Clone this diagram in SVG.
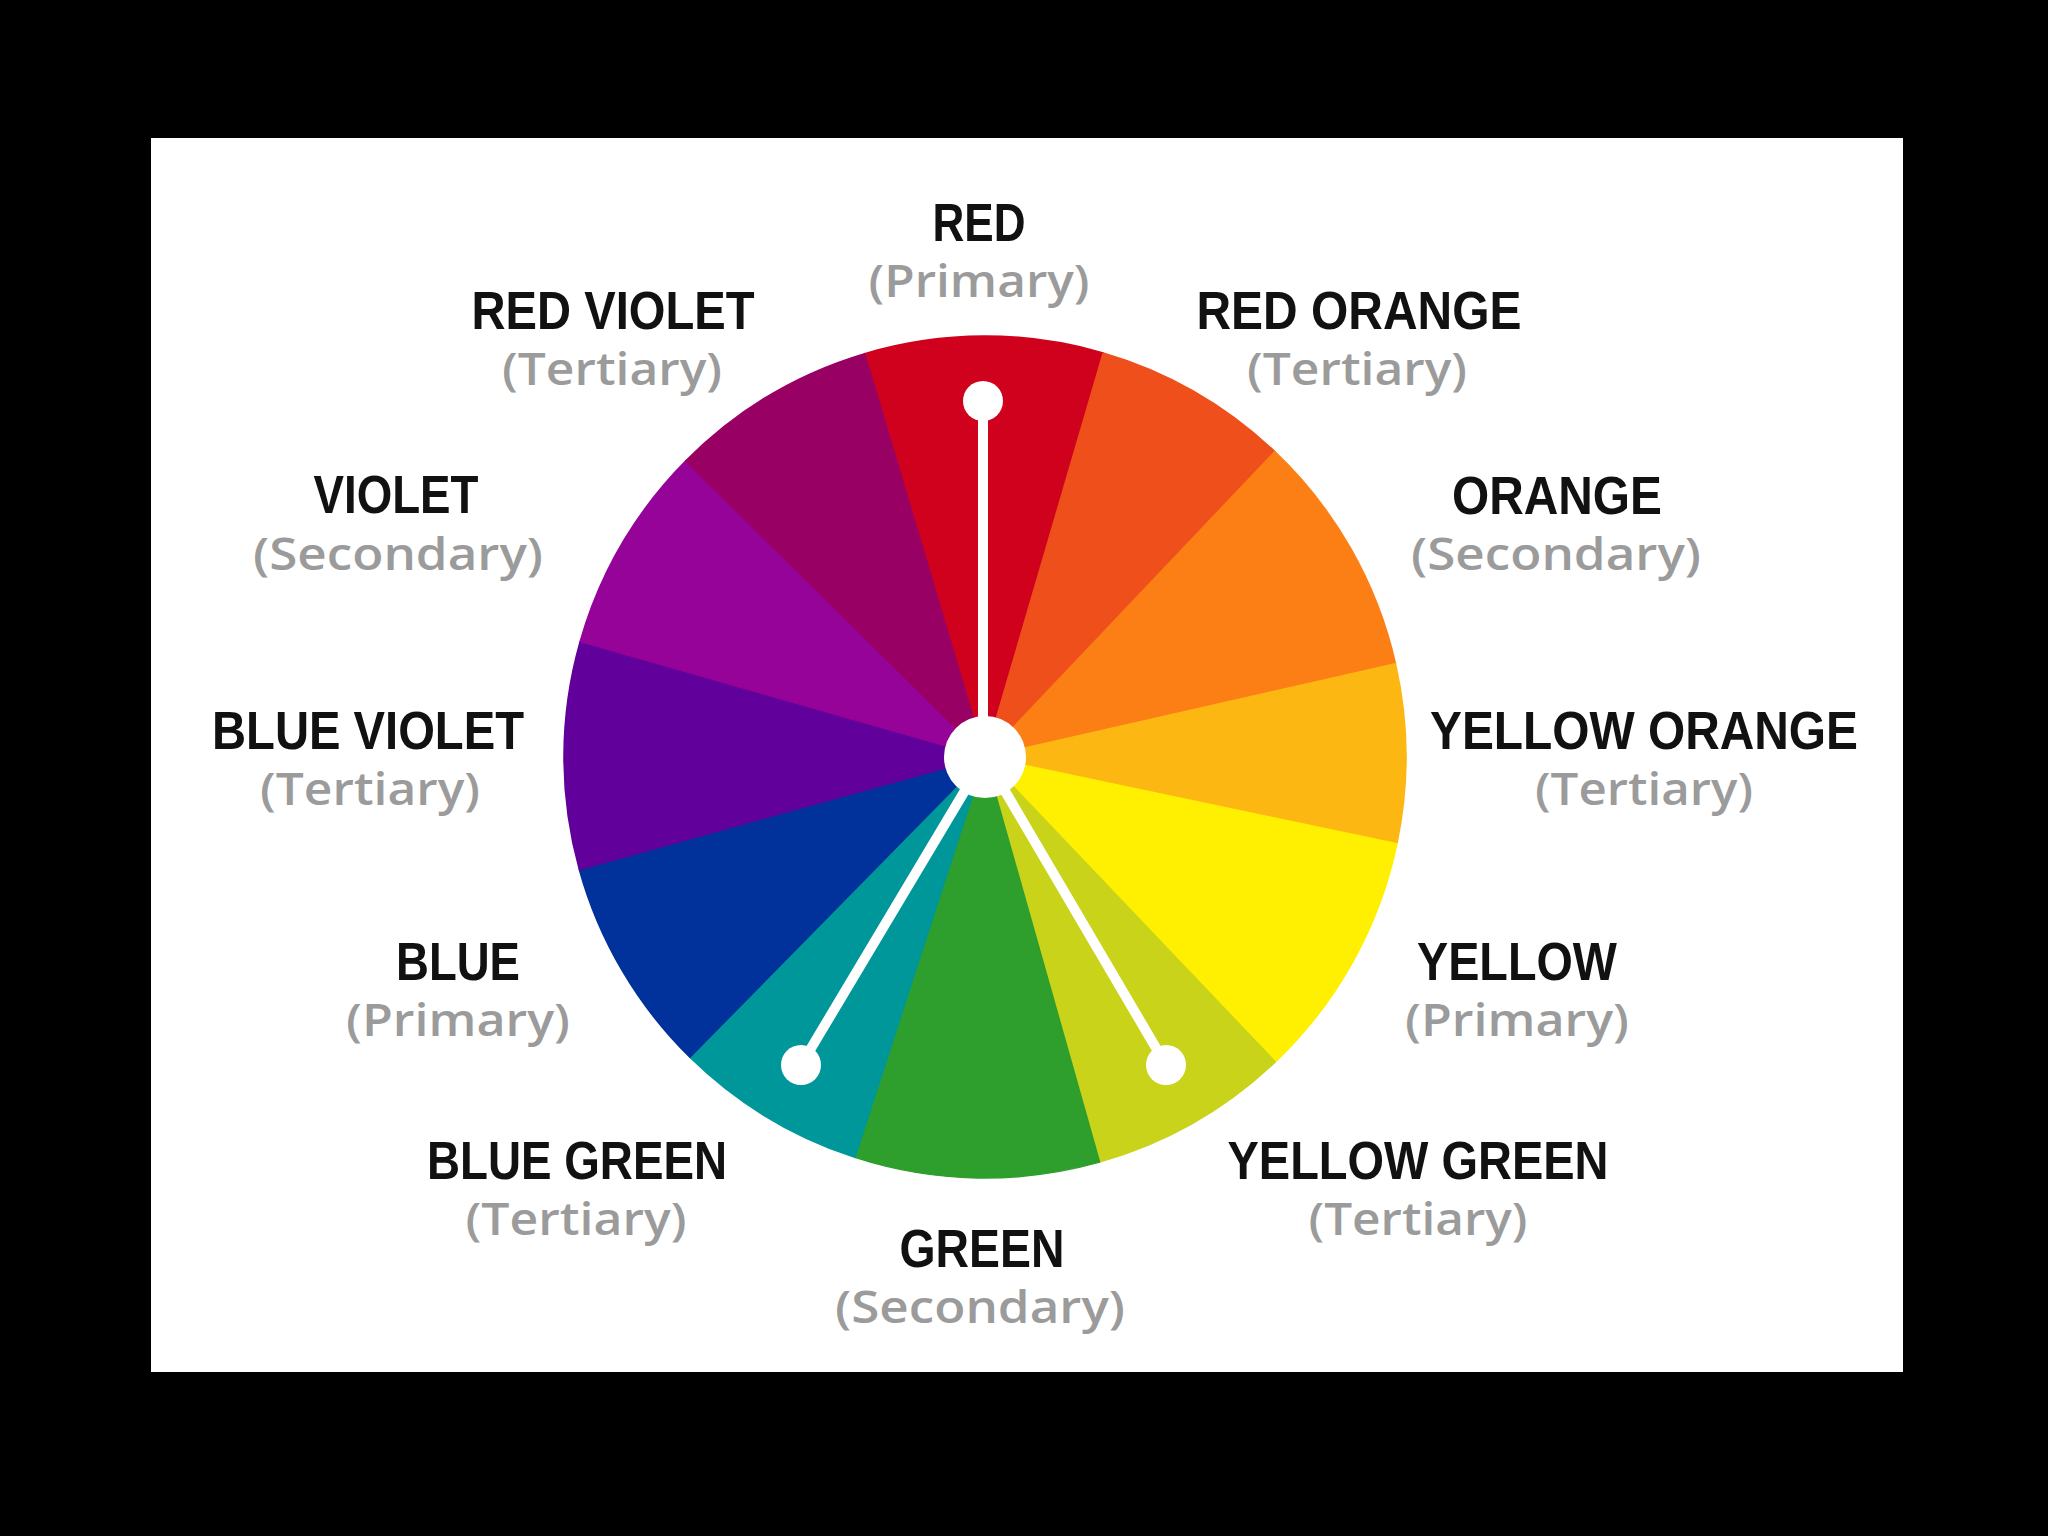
<svg xmlns="http://www.w3.org/2000/svg" width="2048" height="1536" viewBox="0 0 2048 1536">
<style>
.name{font-family:"Liberation Sans",Arial,sans-serif;font-weight:bold;font-size:53px;fill:#111;text-anchor:middle}
.kind{font-family:"Open Sans","Liberation Sans",Arial,sans-serif;font-weight:600;font-size:45px;fill:#9b9b9b;text-anchor:middle}
.seg{stroke-width:1.5;stroke-linejoin:round}
.conn{stroke:#fff;stroke-width:10;stroke-linecap:round;fill:none}
</style>
<rect x="0" y="0" width="2048" height="1536" fill="#000"/>
<rect x="151" y="138" width="1752" height="1234" fill="#fff"/>

<g id="red">
<path class="seg" d="M985 757 L864.7 353.6 A421 421 0 0 1 1103.2 352.9 Z" fill="#D0011C" stroke="#D0011C"/>
<text class="name" x="979" y="241" textLength="93" lengthAdjust="spacingAndGlyphs">RED</text>
<text class="kind" x="979" y="297" textLength="221" lengthAdjust="spacingAndGlyphs">(Primary)</text>
</g>
<g id="red-orange">
<path class="seg" d="M985 757 L1103.2 352.9 A421 421 0 0 1 1274.8 451.6 Z" fill="#EE4F1B" stroke="#EE4F1B"/>
<text class="name" x="1359" y="329" textLength="325" lengthAdjust="spacingAndGlyphs">RED ORANGE</text>
<text class="kind" x="1357" y="385" textLength="220" lengthAdjust="spacingAndGlyphs">(Tertiary)</text>
</g>
<g id="orange">
<path class="seg" d="M985 757 L1274.8 451.6 A421 421 0 0 1 1395.5 663.7 Z" fill="#FC7F15" stroke="#FC7F15"/>
<text class="name" x="1557" y="514" textLength="210" lengthAdjust="spacingAndGlyphs">ORANGE</text>
<text class="kind" x="1556" y="570" textLength="290" lengthAdjust="spacingAndGlyphs">(Secondary)</text>
</g>
<g id="yellow-orange">
<path class="seg" d="M985 757 L1395.5 663.7 A421 421 0 0 1 1396.9 843.8 Z" fill="#FDB713" stroke="#FDB713"/>
<text class="name" x="1644" y="749" textLength="428" lengthAdjust="spacingAndGlyphs">YELLOW ORANGE</text>
<text class="kind" x="1644" y="805" textLength="218" lengthAdjust="spacingAndGlyphs">(Tertiary)</text>
</g>
<g id="yellow">
<path class="seg" d="M985 757 L1396.9 843.8 A421 421 0 0 1 1275.3 1061.9 Z" fill="#FFEF00" stroke="#FFEF00"/>
<text class="name" x="1517" y="980" textLength="200" lengthAdjust="spacingAndGlyphs">YELLOW</text>
<text class="kind" x="1517" y="1036" textLength="224" lengthAdjust="spacingAndGlyphs">(Primary)</text>
</g>
<g id="yellow-green">
<path class="seg" d="M985 757 L1275.3 1061.9 A421 421 0 0 1 1099.6 1162.1 Z" fill="#C9D31A" stroke="#C9D31A"/>
<text class="name" x="1418" y="1179" textLength="381" lengthAdjust="spacingAndGlyphs">YELLOW GREEN</text>
<text class="kind" x="1418" y="1235" textLength="219" lengthAdjust="spacingAndGlyphs">(Tertiary)</text>
</g>
<g id="green">
<path class="seg" d="M985 757 L1099.6 1162.1 A421 421 0 0 1 854.9 1157.4 Z" fill="#2E9E2D" stroke="#2E9E2D"/>
<text class="name" x="982" y="1267" textLength="165" lengthAdjust="spacingAndGlyphs">GREEN</text>
<text class="kind" x="980" y="1323" textLength="290" lengthAdjust="spacingAndGlyphs">(Secondary)</text>
</g>
<g id="blue-green">
<path class="seg" d="M985 757 L854.9 1157.4 A421 421 0 0 1 689.9 1057.3 Z" fill="#00979A" stroke="#00979A"/>
<text class="name" x="577" y="1179" textLength="300" lengthAdjust="spacingAndGlyphs">BLUE GREEN</text>
<text class="kind" x="576" y="1235" textLength="221" lengthAdjust="spacingAndGlyphs">(Tertiary)</text>
</g>
<g id="blue">
<path class="seg" d="M985 757 L689.9 1057.3 A421 421 0 0 1 579.3 869.5 Z" fill="#01319A" stroke="#01319A"/>
<text class="name" x="458" y="980" textLength="124" lengthAdjust="spacingAndGlyphs">BLUE</text>
<text class="kind" x="458" y="1036" textLength="224" lengthAdjust="spacingAndGlyphs">(Primary)</text>
</g>
<g id="blue-violet">
<path class="seg" d="M985 757 L579.3 869.5 A421 421 0 0 1 580.1 641.6 Z" fill="#61009A" stroke="#61009A"/>
<text class="name" x="368" y="749" textLength="312" lengthAdjust="spacingAndGlyphs">BLUE VIOLET</text>
<text class="kind" x="370" y="805" textLength="220" lengthAdjust="spacingAndGlyphs">(Tertiary)</text>
</g>
<g id="violet">
<path class="seg" d="M985 757 L580.1 641.6 A421 421 0 0 1 685.8 460.9 Z" fill="#960399" stroke="#960399"/>
<text class="name" x="396" y="513" textLength="165" lengthAdjust="spacingAndGlyphs">VIOLET</text>
<text class="kind" x="398" y="570" textLength="290" lengthAdjust="spacingAndGlyphs">(Secondary)</text>
</g>
<g id="red-violet">
<path class="seg" d="M985 757 L685.8 460.9 A421 421 0 0 1 864.7 353.6 Z" fill="#990064" stroke="#990064"/>
<text class="name" x="613" y="329" textLength="283" lengthAdjust="spacingAndGlyphs">RED VIOLET</text>
<text class="kind" x="612" y="385" textLength="220" lengthAdjust="spacingAndGlyphs">(Tertiary)</text>
</g>

<g id="connectors">
<line class="conn" x1="983" y1="757" x2="983" y2="401"/>
<line class="conn" x1="985" y1="757" x2="801" y2="1065"/>
<line class="conn" x1="985" y1="757" x2="1166" y2="1065"/>
<circle cx="985" cy="757" r="41" fill="#fff"/>
<circle cx="983" cy="401" r="20" fill="#fff"/>
<circle cx="801" cy="1065" r="20" fill="#fff"/>
<circle cx="1166" cy="1065" r="20" fill="#fff"/>
</g>
</svg>
